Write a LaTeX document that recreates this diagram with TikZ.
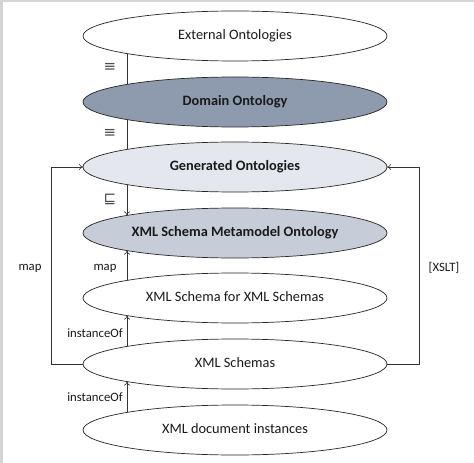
\documentclass[tikz,border=0pt]{standalone}
\usepackage{fontspec}
\setmainfont{Carlito}
\newfontfamily\symfont{DejaVu Sans}
\usetikzlibrary{shapes.geometric,arrows.meta,calc}
\definecolor{domfill}{HTML}{8E9BAE}
\definecolor{genfill}{HTML}{E4E8EE}
\definecolor{metafill}{HTML}{C6CDD8}
\definecolor{txt}{HTML}{1A1A1A}
\definecolor{framegray}{HTML}{D4D4D4}
\tikzset{
  oval/.style={ellipse, draw=black!85, line width=0.7pt, minimum width=304bp, minimum height=50bp,
    inner sep=0pt, outer sep=0pt, font=\fontsize{14.4}{16}\selectfont, text=txt,
    text height=1.9ex, text depth=0.4ex},
  boldoval/.style={oval, font=\fontsize{14.4}{16}\selectfont\bfseries},
  conn/.style={draw=black!80, line width=0.6pt},
  arr/.style={conn, -{To[length=4pt,width=6pt]}},
  lbl/.style={font=\fontsize{12.8}{15}\selectfont, text=txt, inner sep=0pt},
  sym/.style={font=\symfont\fontsize{15}{17}\selectfont, text=black!70, inner sep=0pt}
}
\begin{document}
\begin{tikzpicture}[x=1bp,y=-1bp]
\useasboundingbox (0,0) rectangle (474,463);
\fill[white] (0,0) rectangle (474,463);
\fill[framegray] (0,0) rectangle (474,2.5);
\fill[framegray] (0,0) rectangle (2.5,463);
\node[oval] (ext) at (235,36) {External Ontologies};
\node[boldoval, fill=domfill] (dom) at (235,102) {Domain Ontology};
\node[boldoval, fill=genfill] (gen) at (235,167) {Generated Ontologies};
\node[boldoval, fill=metafill] (meta) at (235,233) {XML Schema Metamodel Ontology};
\node[oval] (xsx) at (235,298) {XML Schema for XML Schemas};
\node[oval] (xs) at (235,364) {XML Schemas};
\node[oval] (doc) at (235,430) {XML document instances};
\coordinate (lb) at (51,364);
\coordinate (lt) at (51,167);
\coordinate (rb) at (419,364);
\coordinate (rt) at (419,167);
\draw[conn] ($(ext.center)+(-108,17.6)$) -- ($(dom.center)+(-108,-17.6)$);
\draw[conn] ($(dom.center)+(-108,17.6)$) -- ($(gen.center)+(-108,-17.6)$);
\draw[arr] ($(gen.center)+(-108,17.6)$) -- ($(meta.center)+(-108,-17.6)$);
\draw[arr] ($(xsx.center)+(-108,-17.6)$) -- ($(meta.center)+(-108,17.6)$);
\draw[arr] ($(xs.center)+(-108,-17.6)$) -- ($(xsx.center)+(-108,17.6)$);
\draw[arr] ($(doc.center)+(-108,-17.6)$) -- ($(xs.center)+(-108,17.6)$);
\draw[arr] (xs.west) -- (lb) -- (lt) -- (gen.west);
\draw[arr] (xs.east) -- (rb) -- (rt) -- (gen.east);
\node[sym] (s1) at (110,67) {≡};
\node[sym] (s2) at (110,133) {≡};
\node[sym] (s3) at (110,199) {⊑};
\node[lbl] (m1) at (30,268) {map};
\node[lbl] (m2) at (105,268) {map};
\node[lbl] (xslt) at (444,268) {[XSLT]};
\node[lbl] (i1) at (95,333) {instanceOf};
\node[lbl] (i2) at (95,397) {instanceOf};
\end{tikzpicture}
\end{document}
